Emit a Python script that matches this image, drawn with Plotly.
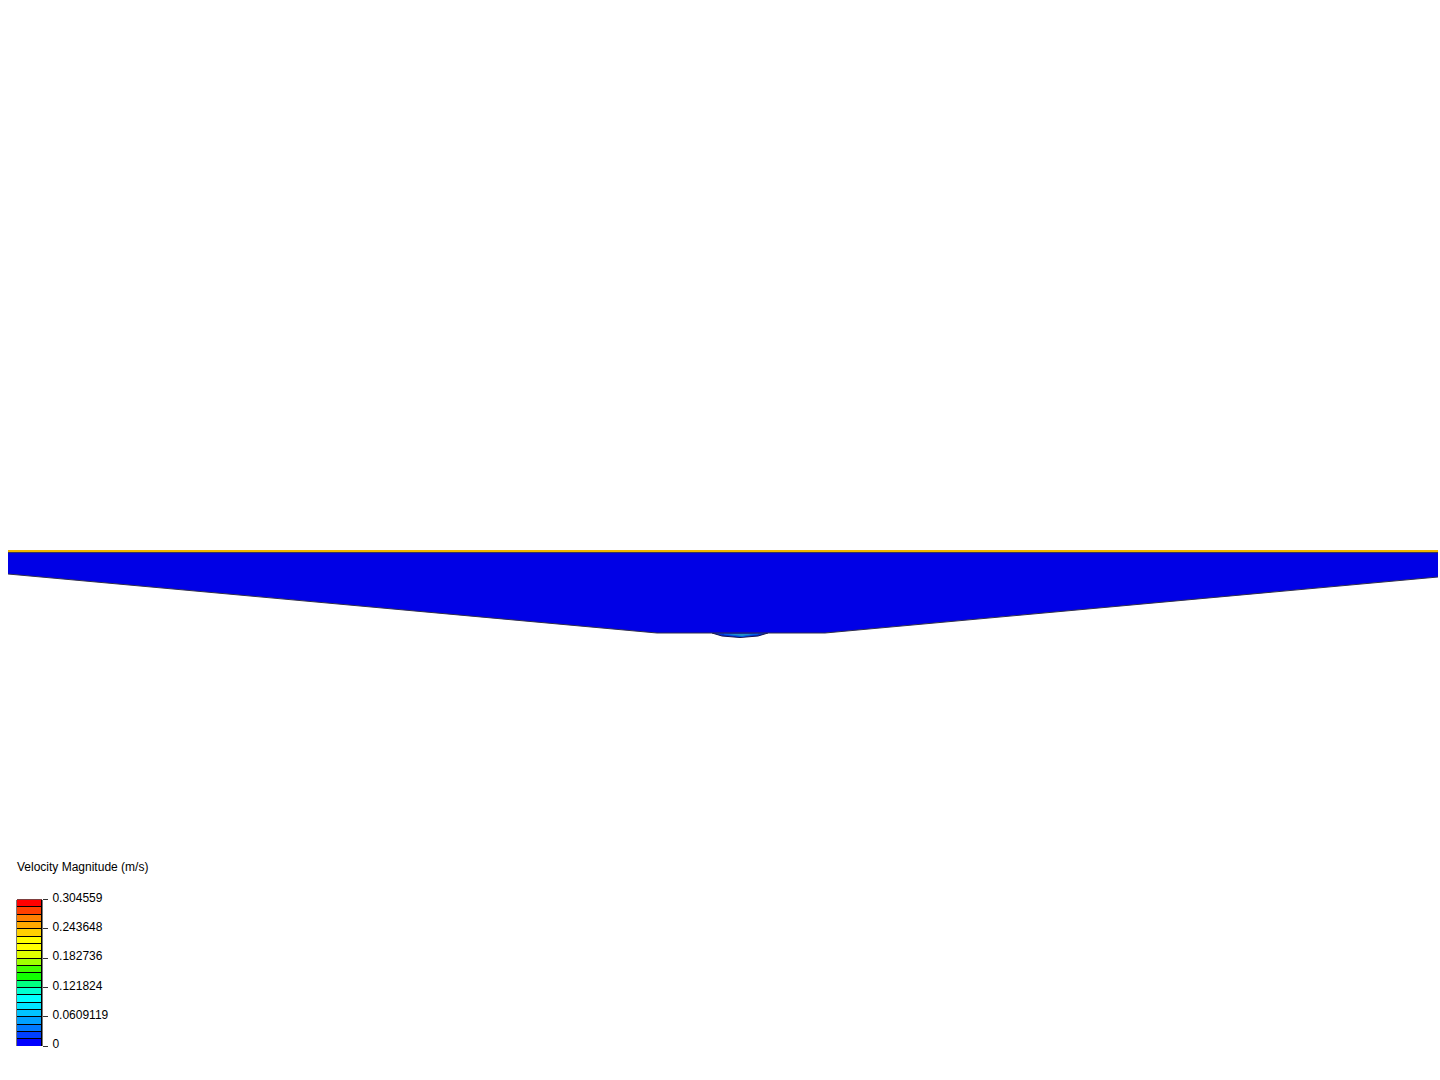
import plotly.graph_objects as go

# Outline of the section, in image units
body_x = [8, 1438, 1438, 825, 657, 8, 8]
body_y = [553, 553, 577, 633, 633, 574, 553]
top_x = [8, 1438, 1438, 8, 8]
top_y = [550, 550, 552, 552, 550]
bump_x = [712, 722, 740, 758, 768]
bump_y = [633, 636, 637.5, 636, 633]
bump_inner_x = [724, 734, 742, 750, 758]
bump_inner_y = [634, 635, 636.5, 635, 634]

# Legend
legend_title = "Velocity Magnitude (m/s)"
tick_vals = [0, 0.0609119, 0.121824, 0.182736, 0.243648, 0.304559]
tick_text = ["0", "0.0609119", "0.121824", "0.182736", "0.243648", "0.304559"]
band_colors = [
    "#0000ff", "#0040ff", "#0078ff", "#00a0ff", "#00c4ff",
    "#00e4ff", "#00ffff", "#00ffd0", "#00ff80", "#10ff00",
    "#40ff00", "#a0ff00", "#e0ff00", "#ffff00", "#ffff00",
    "#ffd000", "#ffaa00", "#ff8000", "#ff4000", "#ff0000",
]
band_size = [0.304559 / 20] * 20

W, H = 1440, 1080

fig = go.Figure()

fig.add_trace(go.Scatter(x=bump_x, y=bump_y, fill="toself", mode="lines",
                         fillcolor="#0030d8", line=dict(color="#101050", width=1)))
fig.add_trace(go.Scatter(x=bump_inner_x, y=bump_inner_y, fill="toself", mode="lines",
                         fillcolor="#2090c8", line=dict(color="#0060e8", width=1)))
fig.add_trace(go.Scatter(x=body_x, y=body_y, fill="toself", mode="lines",
                         fillcolor="#0000e6", line=dict(color="#0000e6", width=0)))
# dark edge along the sloped bottom
fig.add_trace(go.Scatter(x=body_x[2:6], y=body_y[2:6], mode="lines",
                         line=dict(color="#30304a", width=1)))
fig.add_trace(go.Scatter(x=top_x, y=top_y, fill="toself", mode="lines",
                         fillcolor="#ecb400", line=dict(color="#ecb400", width=0)))
fig.add_trace(go.Scatter(x=[8, 1438], y=[552.6, 552.6], mode="lines",
                         line=dict(color="#202050", width=1)))

for size, color in zip(band_size, band_colors):
    fig.add_trace(go.Bar(x=["v"], y=[size], xaxis="x2", yaxis="y2", width=1,
                         marker=dict(color=color, line=dict(color="black", width=1))))

fig.update_layout(
    width=W, height=H, autosize=False,
    margin=dict(l=0, r=0, t=0, b=0),
    paper_bgcolor="white", plot_bgcolor="rgba(0,0,0,0)",
    showlegend=False, barmode="stack", bargap=0,
    font=dict(family="Liberation Sans", size=12, color="black"),
    xaxis=dict(domain=[0, 1], range=[0, W], visible=False, automargin=False),
    yaxis=dict(domain=[0, 1], range=[H, 0], visible=False, automargin=False),
    xaxis2=dict(domain=[17 / W, 42 / W], anchor="y2", visible=False, automargin=False),
    yaxis2=dict(domain=[1 - 1046 / H, 1 - 899.5 / H], anchor="x2", side="right", automargin=False,
                range=[0, 0.304559], tickmode="array", tickvals=tick_vals, ticktext=tick_text,
                ticks="outside", ticklen=5, tickcolor="#333333", tickwidth=1,
                showline=True, linecolor="#777777", mirror=True, showgrid=False, zeroline=False,
                ticklabelstandoff=2, ticklabelshift=-2),
    annotations=[dict(text=legend_title, xref="paper", yref="paper", x=15 / W, y=1 - 867 / H,
                      xanchor="left", yanchor="middle", showarrow=False,
                      font=dict(family="Liberation Sans", size=12, color="black"))],
)

fig.write_html("out.html", config={"displayModeBar": False},
               post_script="document.body.style.margin='0';")
